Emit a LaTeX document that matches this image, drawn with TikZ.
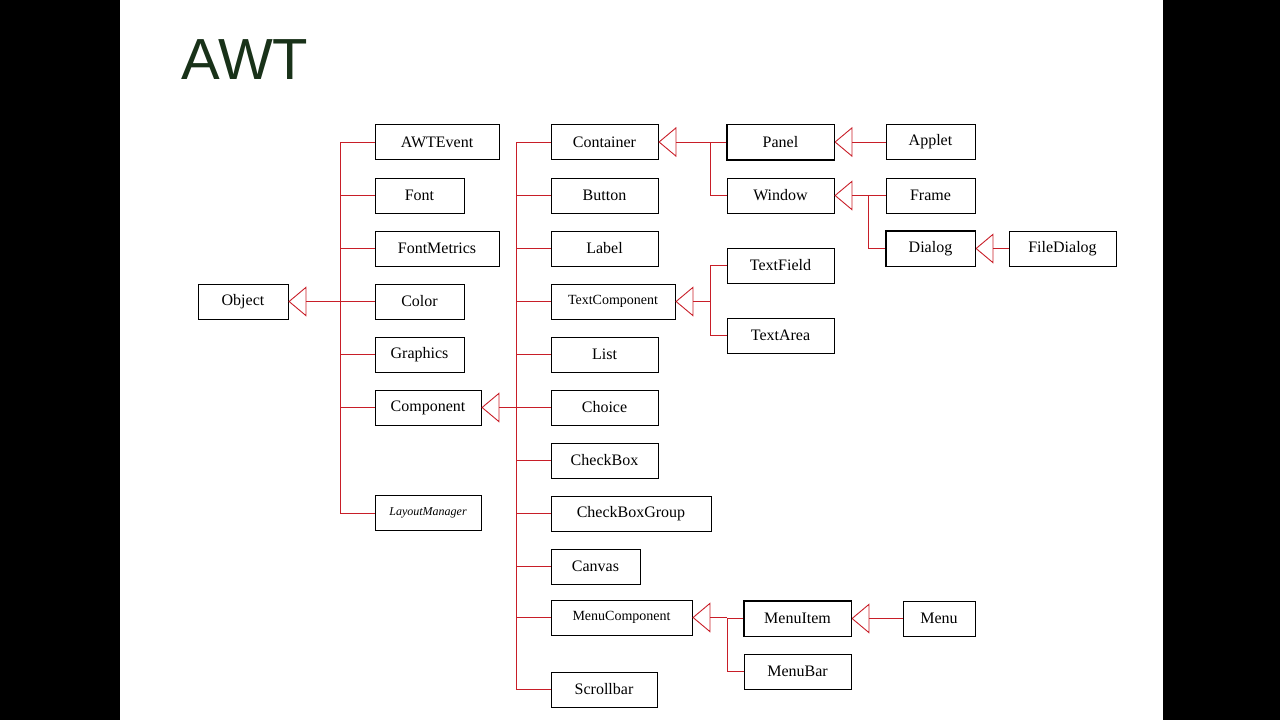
\documentclass[tikz,border=0pt]{standalone}
\usepackage{fontspec}
\setmainfont{Liberation Serif}
\newfontfamily\titlefont{Liberation Sans}
\usetikzlibrary{arrows.meta}
\definecolor{awtred}{RGB}{200,30,40}
\definecolor{awtgreen}{RGB}{25,50,25}
\tikzset{
  cls/.style={draw=black, line width=0.8pt, fill=white, minimum height=35pt,
    inner sep=0pt, font=\fontsize{16}{18}\selectfont},
  link/.style={draw=awtred, line width=0.9pt},
  inh/.style={link, -{Triangle[open, length=18pt, width=30pt, line width=0.9pt]}}
}
\begin{document}
\begin{tikzpicture}[x=1pt, y=-1pt]
  \useasboundingbox (0,0) rectangle (1280,720);
  % slide and side bars
  \fill[black] (0,0) rectangle (120,720);
  \fill[black] (1163,0) rectangle (1280,720);
  \node[anchor=west, text=awtgreen, font=\titlefont\fontsize{58}{60}\selectfont] (title) at (178,60) {AWT};
  % classes
  \foreach \n/\x/\y/\w/\t in {
      Object/243/301.5/90/Object, AWTEvent/437/142/124/AWTEvent,
      Font/419.5/195.5/89/Font, FontMetrics/437/248.5/124/FontMetrics,
      Color/419.5/301.5/89/Color, Graphics/419.5/354.5/89/Graphics,
      Component/428/407.5/106/Component,
      Container/604.5/142/107/Container, Button/604.5/195.5/107/Button,
      Label/604.5/248.5/107/Label, List/604.5/354.5/107/List,
      Choice/604.5/407.5/107/Choice, CheckBox/604.5/460.5/107/CheckBox,
      CheckBoxGroup/631/513.5/160/CheckBoxGroup, Canvas/595.5/566.5/89/Canvas,
      Scrollbar/604/689.5/106/Scrollbar,
      Panel/780.5/142/107/Panel, Window/780.5/195.5/107/Window,
      TextField/780.5/265.5/107/TextField, TextArea/780.5/335.5/107/TextArea,
      Applet/930.5/142/89/Applet, Frame/930.5/195.5/89/Frame,
      Dialog/930.5/248.5/89/Dialog, FileDialog/1062.5/248.5/107/FileDialog,
      MenuItem/797.5/618.5/107/MenuItem, MenuBar/797.5/671.5/107/MenuBar,
      Menu/939/618.5/72/Menu}
    \node[cls, minimum width=\w pt] (\n) at (\x,\y) {\t};
  \node[cls, minimum width=124pt, font=\fontsize{14}{16}\selectfont] (TextComponent) at (613,301.5) {TextComponent};
  \node[cls, minimum width=141pt, font=\fontsize{14}{16}\selectfont] (MenuComponent) at (621.5,617.5) {MenuComponent};
  \node[cls, minimum width=106pt, font=\itshape\fontsize{12}{14}\selectfont] (LayoutManager) at (428,513) {LayoutManager};
  % trunks
  \coordinate (objtop) at (340,142);
  \coordinate (objbot) at (340,513);
  \coordinate (comptop) at (516,142);
  \coordinate (compbot) at (516,689.5);
  \coordinate (contop) at (710,142);
  \coordinate (conbot) at (710,195.5);
  \coordinate (wintop) at (868,195.5);
  \coordinate (winbot) at (868,248.5);
  \coordinate (txttop) at (710,265.5);
  \coordinate (txtbot) at (710,335.5);
  \coordinate (menutop) at (727,618.5);
  \coordinate (menubot) at (727,671.5);
  \draw[link] (objtop) -- (objbot);
  \draw[link] (comptop) -- (compbot);
  \draw[link] (contop) -- (conbot);
  \draw[link] (wintop) -- (winbot);
  \draw[link] (txttop) -- (txtbot);
  \draw[link] (menutop) -- (menubot);
  % inheritance arrows
  \draw[inh] (Object.east -| objtop) -- (Object.east);
  \draw[inh] (Component.east -| comptop) -- (Component.east);
  \draw[inh] (Container.east -| contop) -- (Container.east);
  \draw[inh] (Window.east -| wintop) -- (Window.east);
  \draw[inh] (TextComponent.east -| txttop) -- (TextComponent.east);
  \draw[inh] (MenuComponent.east -| menutop) -- (MenuComponent.east);
  \draw[inh] (Applet) -- (Panel.east);
  \draw[inh] (FileDialog) -- (Dialog.east);
  \draw[inh] (Menu) -- (MenuItem.east);
  % branches
  \foreach \c in {AWTEvent, Font, FontMetrics, Color, Graphics, Component, LayoutManager}
    \draw[link] (\c.west) -- (\c.west -| objtop);
  \foreach \c in {Container, Button, Label, TextComponent, List, Choice, CheckBox,
      CheckBoxGroup, Canvas, MenuComponent, Scrollbar}
    \draw[link] (\c.west) -- (\c.west -| comptop);
  \foreach \c in {Panel, Window}
    \draw[link] (\c.west) -- (\c.west -| contop);
  \foreach \c in {Frame, Dialog}
    \draw[link] (\c.west) -- (\c.west -| wintop);
  \foreach \c in {TextField, TextArea}
    \draw[link] (\c.west) -- (\c.west -| txttop);
  \foreach \c in {MenuItem, MenuBar}
    \draw[link] (\c.west) -- (\c.west -| menutop);
  % redraw boxes over the arrow tips
  \foreach \n in {Panel, Dialog, MenuItem}
    \draw[line width=0.8pt] (\n.south west) rectangle (\n.north east);
\end{tikzpicture}
\end{document}
